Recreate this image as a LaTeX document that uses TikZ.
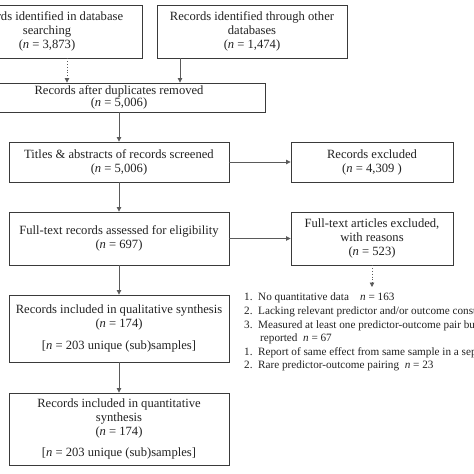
\documentclass[tikz,border=0pt]{standalone}
\usepackage{fontspec}
\setmainfont{Liberation Serif}
\usetikzlibrary{arrows.meta}
\definecolor{boxline}{HTML}{3A3A3A}
\definecolor{conn}{HTML}{5A5A5A}
\definecolor{txt}{HTML}{222222}
\tikzset{
  flowbox/.style={draw=boxline, line width=0.9pt, rectangle, align=center, inner sep=1pt, text=txt, font=\fontsize{12.6}{14}\selectfont},
  link/.style={draw=conn, line width=0.8pt, -{Triangle[length=4.5pt,width=4.5pt]}},
  dotlink/.style={link, dotted},
}
\begin{document}
\begin{tikzpicture}[x=1pt,y=-1pt]
\useasboundingbox (0,0) rectangle (474,474);
\clip (0,0) rectangle (474,474);
\fill[white] (0,0) rectangle (474,474);
% boxes
\node[flowbox, minimum width=190pt, minimum height=53pt] (b1) at (47,31.5) {Records identified in database\\searching\\(\textit{n} = 3,873)};
\node[flowbox, minimum width=190pt, minimum height=53pt] (b2) at (252,31.5) {Records identified through other\\databases\\(\textit{n} = 1,474)};
\node[flowbox, minimum width=292pt, minimum height=29pt, font=\fontsize{12.6}{12.5}\selectfont] (b3) at (119,97.5) {Records after duplicates removed\\(\textit{n} = 5,006)};
\node[flowbox, minimum width=220pt, minimum height=40pt] (b4) at (119,162) {Titles \& abstracts of records screened\\(\textit{n} = 5,006)};
\node[flowbox, minimum width=162pt, minimum height=40pt] (e1) at (372,162) {Records excluded\\(\textit{n} = 4,309 )};
\node[flowbox, minimum width=220pt, minimum height=53pt] (b5) at (119,238.5) {Full-text records assessed for eligibility\\(\textit{n} = 697)};
\node[flowbox, minimum width=162pt, minimum height=53pt] (e2) at (372,238.5) {Full-text articles excluded,\\with reasons\\(\textit{n} = 523)};
\node[flowbox, minimum width=220pt, minimum height=67pt] (b6) at (119,328.5) {Records included in qualitative synthesis\\(\textit{n} = 174)\\[8pt][\textit{n} = 203 unique (sub)samples]};
\node[flowbox, minimum width=220pt, minimum height=72pt] (b7) at (119,429) {Records included in quantitative\\synthesis\\(\textit{n} = 174)\\[7pt][\textit{n} = 203 unique (sub)samples]};
% reasons list
\node[anchor=north west, align=left, inner sep=0pt, text=txt, font=\fontsize{11.2}{13.6}\selectfont] (reasons) at (244,293) {%
\makebox[14pt][l]{1.}No quantitative data\quad \textit{n} = 163\\
\makebox[14pt][l]{2.}Lacking relevant predictor and/or outcome constructs\\
\makebox[14pt][l]{3.}Measured at least one predictor-outcome pair but not\\
\hspace*{16pt}reported\ \ \textit{n} = 67\\
\makebox[14pt][l]{1.}Report of same effect from same sample in a separate\\
\makebox[14pt][l]{2.}Rare predictor-outcome pairing\ \ \textit{n} = 23};
% connector anchors
\coordinate (c1) at (67,0);
\coordinate (c2) at (180,0);
\coordinate (listtop) at (372,287);
% connectors
\draw[dotlink] (b1.south -| c1) -- (b3.north -| c1);
\draw[link] (b2.south -| c2) -- (b3.north -| c2);
\draw[link] (b3) -- (b4);
\draw[link] (b4) -- (e1);
\draw[link] (b4) -- (b5);
\draw[link] (b5) -- (e2);
\draw[dotlink] (e2.south) -- (listtop);
\draw[link] (b5) -- (b6);
\draw[link] (b6) -- (b7);
\end{tikzpicture}
\end{document}
